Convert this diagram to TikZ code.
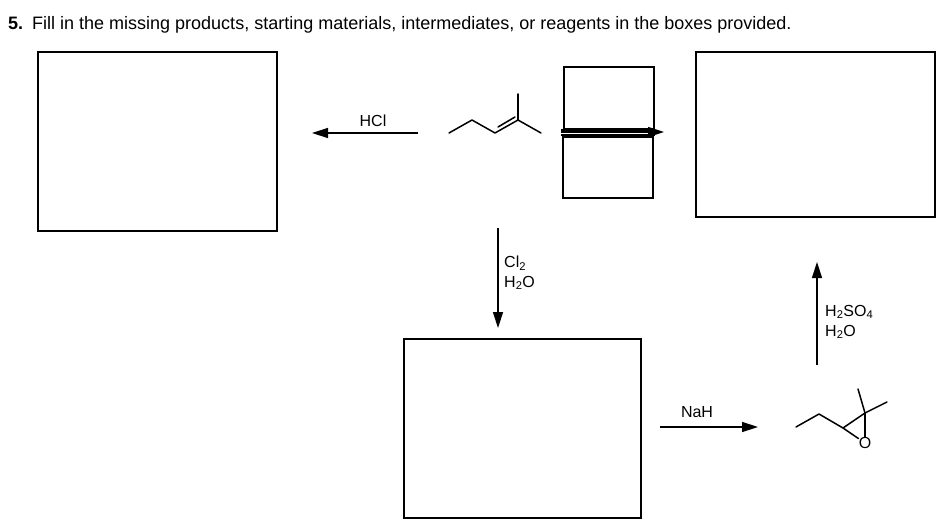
\documentclass[tikz,border=0pt]{standalone}
\usepackage{fontspec}
\setmainfont{Liberation Sans}
\usetikzlibrary{arrows.meta}
\begin{document}
\begin{tikzpicture}[x=1pt,y=-1pt,
  box/.style={draw,line width=1.3pt},
  rxn/.style={draw,line width=1.4pt,-{Triangle[length=16pt,width=10pt]}},
  bond/.style={line width=1.5pt,line cap=round,line join=round},
  lab/.style={font=\fontsize{16}{18}\selectfont,inner sep=0pt,anchor=west}]
\useasboundingbox (0,0) rectangle (946,532);
\node[anchor=west,inner sep=0pt,font=\fontsize{18}{20}\selectfont] (title) at (8,25) {\textbf{5.}\enspace Fill in the missing products, starting materials, intermediates, or reagents in the boxes provided.};
% boxes
\draw[box] (38,52) rectangle (277,231);
\draw[box] (696,52) rectangle (935,217);
\draw[box] (404,339) rectangle (641,518);
\draw[box] (564,67) rectangle (654,129);
\draw[box] (563,137) rectangle (653,198);
% arrows
\coordinate (h1) at (418,133); \coordinate (h2) at (312,133);
\draw[rxn] (h1) -- (h2);
\node[lab,anchor=center] (hcl) at (373,121) {HCl};
\coordinate (r1) at (561,132); \coordinate (r2) at (664,132);
\draw[line width=1.3pt] (561,130) -- (655,130);
\draw[line width=1.3pt] (561,135) -- (655,135);
\draw[rxn] (r1) -- (r2);
\coordinate (d1) at (498,228); \coordinate (d2) at (498,328);
\draw[rxn] (d1) -- (d2);
\node[lab] (cl) at (504,263) {Cl\textsubscript{2}};
\node[lab] (h2o) at (504,283) {H\textsubscript{2}O};
\coordinate (n1) at (660,427); \coordinate (n2) at (758,427);
\draw[rxn] (n1) -- (n2);
\node[lab,anchor=center] (nah) at (697,412) {NaH};
\coordinate (u1) at (817,365); \coordinate (u2) at (817,262);
\draw[rxn] (u1) -- (u2);
\node[lab] (hs) at (825,312) {H\textsubscript{2}SO\textsubscript{4}};
\node[lab] (h2o2) at (825,332) {H\textsubscript{2}O};
% alkene
\draw[bond] (449,133) -- (472,120) -- (495,133) -- (518,120) -- (541,133);
\draw[bond] (518,120) -- (518,94);
\draw[bond] (498,127) -- (515,117);
% epoxide
\node[lab,anchor=center] (O) at (865,443) {O};
\draw[bond] (796,427) -- (819,414) -- (843,428) -- (865,413);
\draw[bond] (865,413) -- (858,389);
\draw[bond] (865,413) -- (887,402);
\draw[bond] (843,428) -- (O);
\draw[bond] (865,413) -- (O);
\end{tikzpicture}
\end{document}
